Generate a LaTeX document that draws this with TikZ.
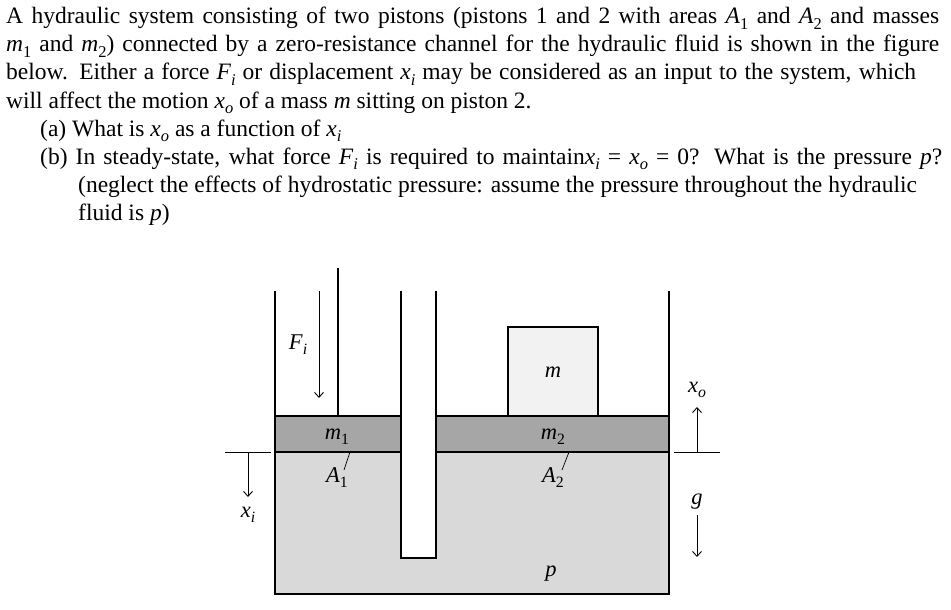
\documentclass[tikz,border=0pt]{standalone}
\usepackage{fontspec}
\usetikzlibrary{arrows.meta}
\setmainfont{Liberation Serif}
\newcommand{\sbs}[1]{\raisebox{-0.22em}{\fontsize{0.7em}{0.7em}\selectfont #1}}
\newcommand{\iv}[2]{\textit{#1}\sbs{\textit{#2}}}
\newcommand{\uv}[2]{\textit{#1}\sbs{#2}}
\begin{document}
\begin{tikzpicture}[x=1pt,y=-1pt,
  wall/.style={line width=1.2pt},
  lbl/.style={font=\fontsize{22.5}{24}\selectfont},
  arr/.style={-{Straight Barb[length=5pt,width=9pt]},line width=0.9pt},
  txt/.style={anchor=base west,inner sep=0pt,font=\fontsize{23.5}{26}\selectfont}]
\useasboundingbox (0,0) rectangle (951,610);
% paragraph
\node[txt] (l1) at (6,24) {\makebox[933pt][s]{A hydraulic system consisting of two pistons (pistons 1 and 2 with areas \uv{A}{1} and \uv{A}{2} and masses}};
\node[txt] (l2) at (6,52) {\makebox[933pt][s]{\uv{m}{1} and \uv{m}{2}) connected by a zero-resistance channel for the hydraulic fluid is shown in the figure}};
\node[txt] (l3) at (6,80) {\makebox[910pt][s]{below. Either a force \iv{F}{i} or displacement \iv{x}{i} may be considered as an input to the system, which}};
\node[txt] (l4) at (6,108) {will affect the motion \iv{x}{o} of a mass \textit{m} sitting on piston 2.};
\node[txt] (l5) at (40,136) {(a) What is \iv{x}{o} as a function of \iv{x}{i}};
\node[txt] (l6) at (40,164) {\makebox[902pt][s]{(b) In steady-state, what force \iv{F}{i} is required to maintain\iv{x}{i} = \iv{x}{o} = 0? What is the pressure \textit{p}?}};
\node[txt] (l7) at (78,192) {(neglect the effects of hydrostatic pressure: assume the pressure throughout the hydraulic};
\node[txt] (l8) at (78,220) {fluid is \textit{p})};
% fluid
\fill[fill={rgb,255:red,217;green,217;blue,217}] (275,452) rectangle (669,594);
\fill[white] (401,452) rectangle (436,558);
% pistons
\draw[wall,fill={rgb,255:red,166;green,166;blue,166}] (275,416) rectangle (401,452);
\draw[wall,fill={rgb,255:red,166;green,166;blue,166}] (436,416) rectangle (669,452);
% mass
\draw[wall,fill={rgb,255:red,242;green,242;blue,242}] (508,327) rectangle (598,416);
% walls
\draw[wall] (275,291) -- (275,594) -- (669,594) -- (669,291);
\draw[wall] (401,291) -- (401,558) -- (436,558) -- (436,291);
\draw[wall] (338,268) -- (338,416);
% reference lines
\draw[line width=0.9pt] (225,452) -- (271,452);
\draw[line width=0.9pt] (674,452) -- (720,452);
\draw[arr] (248,452) -- (248,497);
\draw[arr] (697,452) -- (697,407);
\draw[arr] (697,515) -- (697,557);
\draw[arr] (319,291) -- (319,398);
% leaders
\draw[line width=0.7pt] (350,452) -- (344,470);
\draw[line width=0.7pt] (569,452) -- (562,470);
% labels
\node[lbl] (fi) at (298,345) {\iv{F}{i}};
\node[lbl] (m) at (553,372) {\textit{m}};
\node[lbl] (xo) at (697,390) {\iv{x}{o}};
\node[lbl] (m1) at (337,437) {\uv{m}{1}};
\node[lbl] (m2) at (553,437) {\uv{m}{2}};
\node[lbl] (a1) at (337,478) {\uv{A}{1}};
\node[lbl] (a2) at (553,478) {\uv{A}{2}};
\node[lbl] (xi) at (248,515) {\iv{x}{i}};
\node[lbl] (g) at (697,502) {\textit{g}};
\node[lbl] (p) at (551,574) {\textit{p}};
\end{tikzpicture}
\end{document}
